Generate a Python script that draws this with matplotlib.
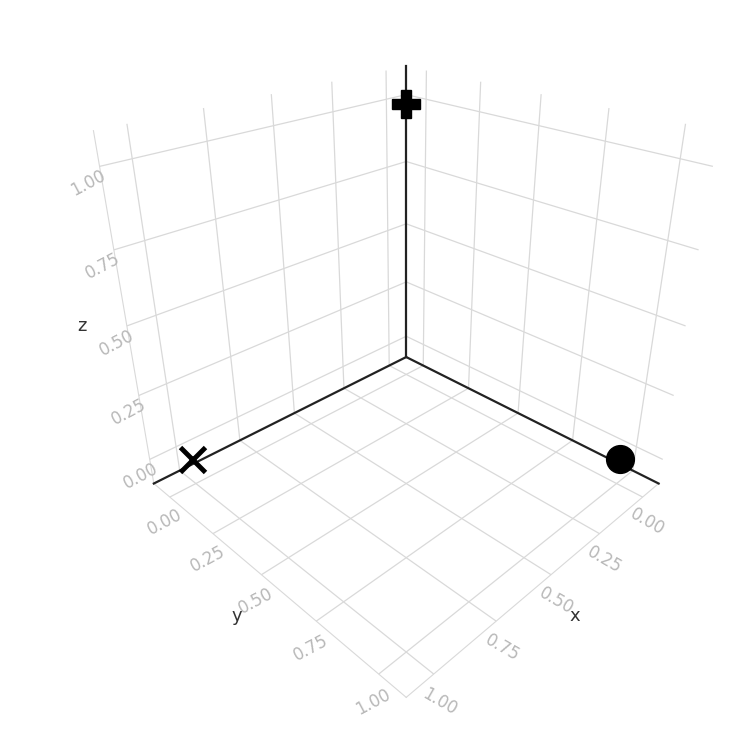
import numpy as np
import matplotlib
matplotlib.use("Agg")
import matplotlib.pyplot as plt
from mpl_toolkits.mplot3d import Axes3D

# three points, one on each axis
xs = [1.0, 0.0, 0.0]
ys = [0.0, 1.0, 0.0]
zs = [0.0, 0.0, 1.0]
shapes = ['x', 'o', 'P']

ticks = [0.0, 0.25, 0.5, 0.75, 1.0]
tick_labels = ['0.00', '0.25', '0.50', '0.75', '1.00']
lims = (-0.1, 1.1)

gridc = '#d9d9d9'
tickc = '#b8b8b8'

fig = plt.figure(figsize=(7.34, 7.30), dpi=100)
ax = fig.add_subplot(111, projection='3d')
ax.set_position([0.04, 0.04, 1.0, 1.0])
ax.set_proj_type('persp', focal_length=0.22)
ax.view_init(elev=28, azim=45)
ax.set_box_aspect((1, 1, 1), zoom=0.91)

ax.set_xlim(*lims)
ax.set_ylim(*lims)
ax.set_zlim(*lims)

for a in (ax.xaxis, ax.yaxis, ax.zaxis):
	a.set_pane_color((1, 1, 1, 0))
	a.pane.set_edgecolor(gridc)
	a.line.set_color(gridc)
	a._axinfo['grid']['color'] = gridc
	a._axinfo['grid']['linewidth'] = 0.9
	a._axinfo['tick']['inward_factor'] = 0
	a._axinfo['tick']['outward_factor'] = 0
	a.set_tick_params(color=(1, 1, 1, 0), pad=-3)

ax.set_xticks(ticks)
ax.set_yticks(ticks)
ax.set_zticks(ticks)
ax.set_xticklabels(tick_labels, color=tickc, fontsize=12, rotation=-30)
ax.set_yticklabels(tick_labels, color=tickc, fontsize=12, rotation=28)
ax.set_zticklabels(tick_labels, color=tickc, fontsize=12, rotation=28)
ax.set_xlabel('x', color='#333333', fontsize=13, labelpad=1)
ax.set_ylabel('y', color='#333333', fontsize=13, labelpad=1)
ax.set_zlabel('z', color='#333333', fontsize=13, labelpad=1)

# black axis lines along back edges
lo, hi = lims
ax.plot([lo, hi], [lo, lo], [lo, lo], color='#222222', lw=1.6)
ax.plot([lo, lo], [lo, hi], [lo, lo], color='#222222', lw=1.6)
ax.plot([lo, lo], [lo, lo], [lo, hi], color='#222222', lw=1.6)

for x, y, z, m in zip(xs, ys, zs, shapes):
	if m == 'x':
		ax.plot([x], [y], [z], marker=m, ms=18, mew=3.5, color='black', ls='none')
	else:
		ax.plot([x], [y], [z], marker=m, ms=20, color='black', ls='none')

fig.savefig('out.png', dpi=100)
